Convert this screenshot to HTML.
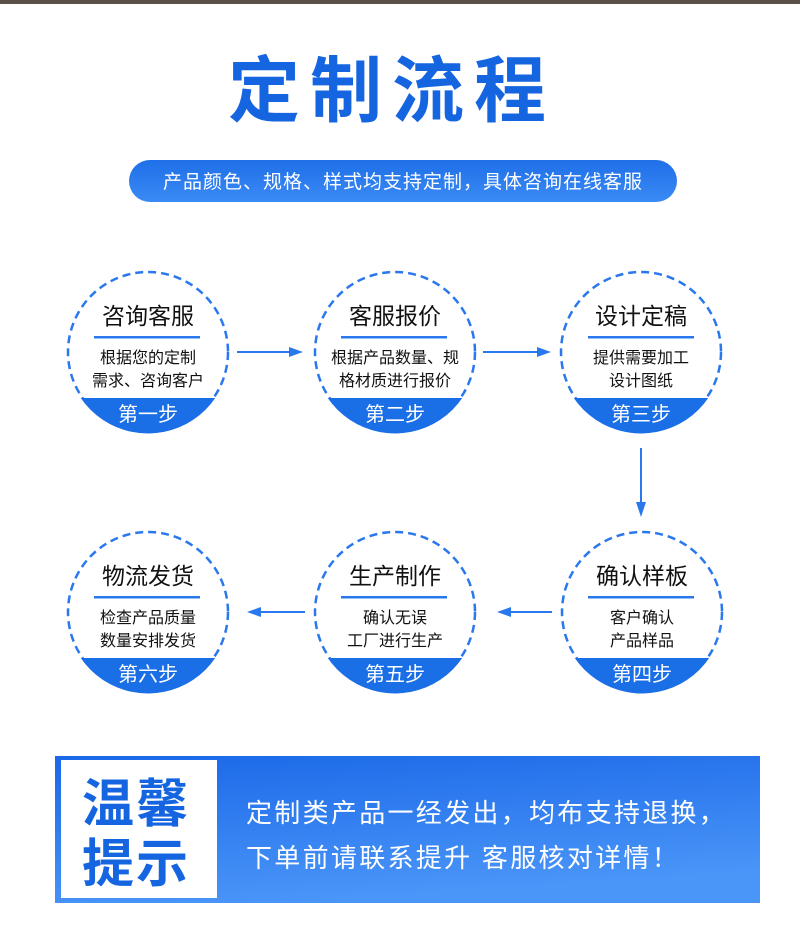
<!DOCTYPE html>
<html><head><meta charset="utf-8"><style>
html,body{margin:0;padding:0;background:#fff;}
body{width:800px;height:942px;overflow:hidden;font-family:"Liberation Sans","Noto Sans CJK SC",sans-serif;}
</style></head><body>
<svg width="800" height="942" viewBox="0 0 800 942" xmlns="http://www.w3.org/2000/svg" font-family="'Liberation Sans','Noto Sans CJK SC',sans-serif">
<defs>
<linearGradient id="pill" x1="0" y1="0" x2="0" y2="1"><stop offset="0" stop-color="#1f6fe8"/><stop offset="1" stop-color="#3a8af5"/></linearGradient>
<linearGradient id="box" x1="0" y1="0" x2="0.3" y2="1"><stop offset="0" stop-color="#1a68e8"/><stop offset="1" stop-color="#4a95f8"/></linearGradient>
<clipPath id="c1"><circle cx="148" cy="352" r="81.5"/></clipPath>
<clipPath id="c2"><circle cx="395" cy="352" r="81.5"/></clipPath>
<clipPath id="c3"><circle cx="641" cy="352" r="81.5"/></clipPath>
<clipPath id="c4"><circle cx="642" cy="612" r="81.5"/></clipPath>
<clipPath id="c5"><circle cx="395" cy="612" r="81.5"/></clipPath>
<clipPath id="c6"><circle cx="148" cy="612" r="81.5"/></clipPath>
</defs>
<rect x="0" y="0" width="800" height="4" fill="#5a5048"/>
<text x="392" y="116" text-anchor="middle" font-size="72" font-weight="bold" fill="#1565e0" letter-spacing="10">定制流程</text>
<rect x="129" y="160" width="548" height="42" rx="21" fill="url(#pill)"/>
<text x="403" y="188" text-anchor="middle" font-size="19" fill="#fff" letter-spacing="1">产品颜色、规格、样式均支持定制，具体咨询在线客服</text>

<g font-size="16" fill="#111" text-anchor="middle">
<circle cx="148" cy="352" r="80" fill="none" stroke="#2a78ee" stroke-width="2.5" stroke-dasharray="8 5"/>
<rect x="60" y="398" width="180" height="40" fill="#1b6fe6" clip-path="url(#c1)"/>
<text x="148" y="324" font-size="23">咨询客服</text>
<rect x="94" y="336" width="106" height="2.5" fill="#2a78ee"/>
<text x="148" y="363">根据您的定制</text>
<text x="148" y="386">需求、咨询客户</text>
<text x="148" y="421" font-size="20" fill="#fff">第一步</text>

<circle cx="395" cy="352" r="80" fill="none" stroke="#2a78ee" stroke-width="2.5" stroke-dasharray="8 5"/>
<rect x="307" y="398" width="180" height="40" fill="#1b6fe6" clip-path="url(#c2)"/>
<text x="395" y="324" font-size="23">客服报价</text>
<rect x="341" y="336" width="106" height="2.5" fill="#2a78ee"/>
<text x="395" y="363">根据产品数量、规</text>
<text x="395" y="386">格材质进行报价</text>
<text x="395" y="421" font-size="20" fill="#fff">第二步</text>

<circle cx="641" cy="352" r="80" fill="none" stroke="#2a78ee" stroke-width="2.5" stroke-dasharray="8 5"/>
<rect x="553" y="398" width="180" height="40" fill="#1b6fe6" clip-path="url(#c3)"/>
<text x="641" y="324" font-size="23">设计定稿</text>
<rect x="588" y="336" width="106" height="2.5" fill="#2a78ee"/>
<text x="641" y="363">提供需要加工</text>
<text x="641" y="386">设计图纸</text>
<text x="641" y="421" font-size="20" fill="#fff">第三步</text>

<circle cx="642" cy="612" r="80" fill="none" stroke="#2a78ee" stroke-width="2.5" stroke-dasharray="8 5"/>
<rect x="554" y="658" width="180" height="40" fill="#1b6fe6" clip-path="url(#c4)"/>
<text x="642" y="584" font-size="23">确认样板</text>
<rect x="588" y="596" width="106" height="2.5" fill="#2a78ee"/>
<text x="642" y="623">客户确认</text>
<text x="642" y="646">产品样品</text>
<text x="642" y="681" font-size="20" fill="#fff">第四步</text>

<circle cx="395" cy="612" r="80" fill="none" stroke="#2a78ee" stroke-width="2.5" stroke-dasharray="8 5"/>
<rect x="307" y="658" width="180" height="40" fill="#1b6fe6" clip-path="url(#c5)"/>
<text x="395" y="584" font-size="23">生产制作</text>
<rect x="341" y="596" width="106" height="2.5" fill="#2a78ee"/>
<text x="395" y="623">确认无误</text>
<text x="395" y="646">工厂进行生产</text>
<text x="395" y="681" font-size="20" fill="#fff">第五步</text>

<circle cx="148" cy="612" r="80" fill="none" stroke="#2a78ee" stroke-width="2.5" stroke-dasharray="8 5"/>
<rect x="60" y="658" width="180" height="40" fill="#1b6fe6" clip-path="url(#c6)"/>
<text x="148" y="584" font-size="23">物流发货</text>
<rect x="94" y="596" width="106" height="2.5" fill="#2a78ee"/>
<text x="148" y="623">检查产品质量</text>
<text x="148" y="646">数量安排发货</text>
<text x="148" y="681" font-size="20" fill="#fff">第六步</text>
</g>

<g stroke="#2a78ee" stroke-width="2" fill="#2a78ee">
<line x1="237" y1="352" x2="292" y2="352"/><polygon points="303,352 289,347 289,357" stroke="none"/>
<line x1="483" y1="352" x2="540" y2="352"/><polygon points="551,352 537,347 537,357" stroke="none"/>
<line x1="641" y1="448" x2="641" y2="505"/><polygon points="641,517 636,502 646,502" stroke="none"/>
<line x1="552" y1="612" x2="508" y2="612"/><polygon points="497,612 511,607 511,617" stroke="none"/>
<line x1="305" y1="612" x2="258" y2="612"/><polygon points="247,612 261,607 261,617" stroke="none"/>
</g>

<rect x="55" y="756" width="705" height="147" fill="url(#box)"/>
<rect x="61" y="760" width="156" height="138" fill="#fff"/>
<text x="136" y="822" text-anchor="middle" font-size="52" font-weight="bold" fill="#1565e0" letter-spacing="2">温馨</text>
<text x="136" y="882" text-anchor="middle" font-size="52" font-weight="bold" fill="#1565e0" letter-spacing="2">提示</text>
<text x="246" y="822" font-size="26" fill="#fff" letter-spacing="2.3">定制类产品一经发出，均布支持退换，</text>
<text x="246" y="867" font-size="26" fill="#fff" letter-spacing="2.3">下单前请联系提升 客服核对详情！</text>
</svg>
</body></html>
